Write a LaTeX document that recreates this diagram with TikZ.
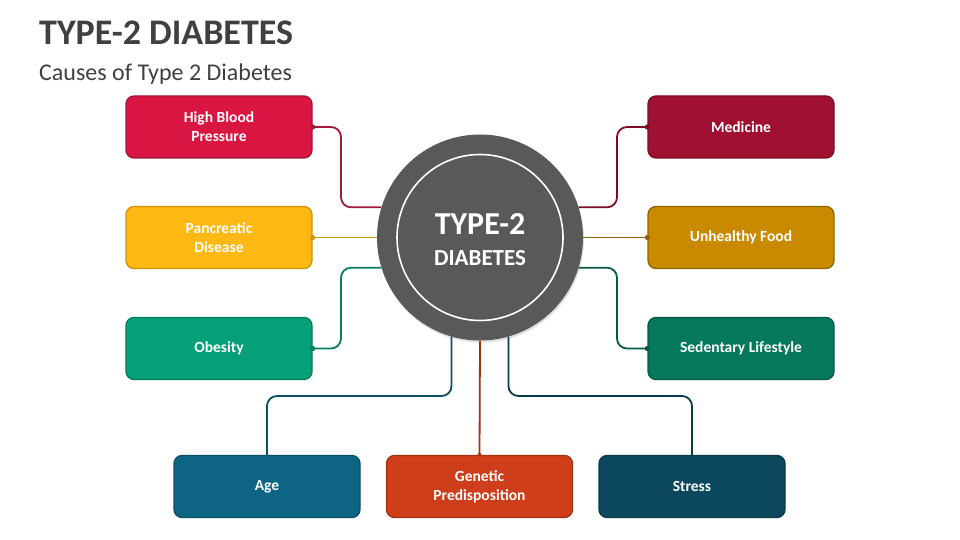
\documentclass[tikz,border=0pt]{standalone}
\usepackage{fontspec}
\setmainfont{Carlito}
\usetikzlibrary{shadows}
\definecolor{titlegray}{HTML}{404040}
\definecolor{hubgray}{HTML}{595959}
\definecolor{hbpF}{HTML}{D91541}\definecolor{hbpD}{HTML}{A3183A}
\definecolor{pdF}{HTML}{FDB813}\definecolor{pdD}{HTML}{CC950C}
\definecolor{obF}{HTML}{05A077}\definecolor{obD}{HTML}{077C5E}
\definecolor{medF}{HTML}{A01032}\definecolor{medD}{HTML}{7A0C25}
\definecolor{ufF}{HTML}{C98A00}\definecolor{ufD}{HTML}{8F6400}
\definecolor{slF}{HTML}{06785B}\definecolor{slD}{HTML}{065A45}
\definecolor{ageF}{HTML}{0E6583}\definecolor{ageD}{HTML}{0B4F66}
\definecolor{gpF}{HTML}{CE3E1A}\definecolor{gpD}{HTML}{A33215}
\definecolor{stF}{HTML}{0B485D}\definecolor{stD}{HTML}{083A4C}
\tikzset{
  cause/.style={draw=#1D, fill=#1F, line width=1.3pt, rounded corners=8pt,
    minimum width=186pt, minimum height=62pt, inner sep=0pt, align=center,
    text=white, font=\fontsize{15.5}{19}\selectfont\bfseries},
  link/.style={draw=#1D, line width=1.8pt, rounded corners=10pt},
  enddot/.style={fill=#1D}
}
\begin{document}
\begin{tikzpicture}[x=1pt,y=-1pt]
\useasboundingbox[fill=white] (0,0) rectangle (960,540);
% titles
\node[anchor=base west, inner sep=0pt, text=titlegray, font=\fontsize{36}{40}\selectfont\bfseries] (title) at (39,45) {TYPE-2 DIABETES};
\node[anchor=base west, inner sep=0pt, text=titlegray, font=\fontsize{24}{28}\selectfont] (subtitle) at (39,81) {Causes of Type 2 Diabetes};
% hub
\node[circle, fill=hubgray, minimum size=206pt, inner sep=0pt, drop shadow={opacity=0.25, shadow xshift=1pt, shadow yshift=-2pt}] (c) at (480,237.5) {};
\node[circle, draw=white, line width=1.6pt, minimum size=166pt, inner sep=0pt] (ring) at (c) {};
\node[text=white, font=\fontsize{32}{36}\selectfont\bfseries, inner sep=0pt] (t1) at (480,224) {TYPE-2};
\node[text=white, font=\fontsize{23}{26}\selectfont\bfseries, inner sep=0pt] (t2) at (480,258) {DIABETES};
% cause boxes
\node[cause=hbp] (hbp) at (219,127) {High Blood\\Pressure};
\node[cause=pd] (pd) at (219,237.5) {Pancreatic\\Disease};
\node[cause=ob] (ob) at (219,348.5) {Obesity};
\node[cause=med] (med) at (741,127) {Medicine};
\node[cause=uf] (uf) at (741,237.5) {Unhealthy Food};
\node[cause=sl] (sl) at (741,348.5) {Sedentary Lifestyle};
\node[cause=age] (age) at (267,486.5) {Age};
\node[cause=gp] (gp) at (479.5,486.5) {Genetic\\Predisposition};
\node[cause=st] (st) at (692,486.5) {Stress};
% bend coordinates
\coordinate (k1) at (341,170);
\coordinate (k3) at (341,300);
\coordinate (k4) at (617,170);
\coordinate (k6) at (617,300);
\coordinate (k7) at (360,396);
\coordinate (k9) at (600,396);
% connectors
\draw[link=hbp] (hbp.east) -| (k1) |- (c.163);
\draw[link=pd] (pd.east) -- (c.west);
\draw[link=ob] (ob.east) -| (k3) |- (c.197);
\draw[link=med] (c.17) -| (k4) |- (med.west);
\draw[link=uf] (c.east) -- (uf.west);
\draw[link=sl] (c.-17) -| (k6) |- (sl.west);
\draw[link=age] (c.254) |- (k7) -| (age.north);
\draw[link=gp] (c.south) -- (gp.north);
\draw[link=st] (c.286) |- (k9) -| (st.north);
% end dots
\fill[enddot=hbp] (hbp.east) circle (2.6pt);
\fill[enddot=pd] (pd.east) circle (2.6pt);
\fill[enddot=ob] (ob.east) circle (2.6pt);
\fill[enddot=med] (med.west) circle (2.6pt);
\fill[enddot=uf] (uf.west) circle (2.6pt);
\fill[enddot=sl] (sl.west) circle (2.6pt);
\fill[enddot=gp] (gp.north) circle (2pt);
\end{tikzpicture}
\end{document}
